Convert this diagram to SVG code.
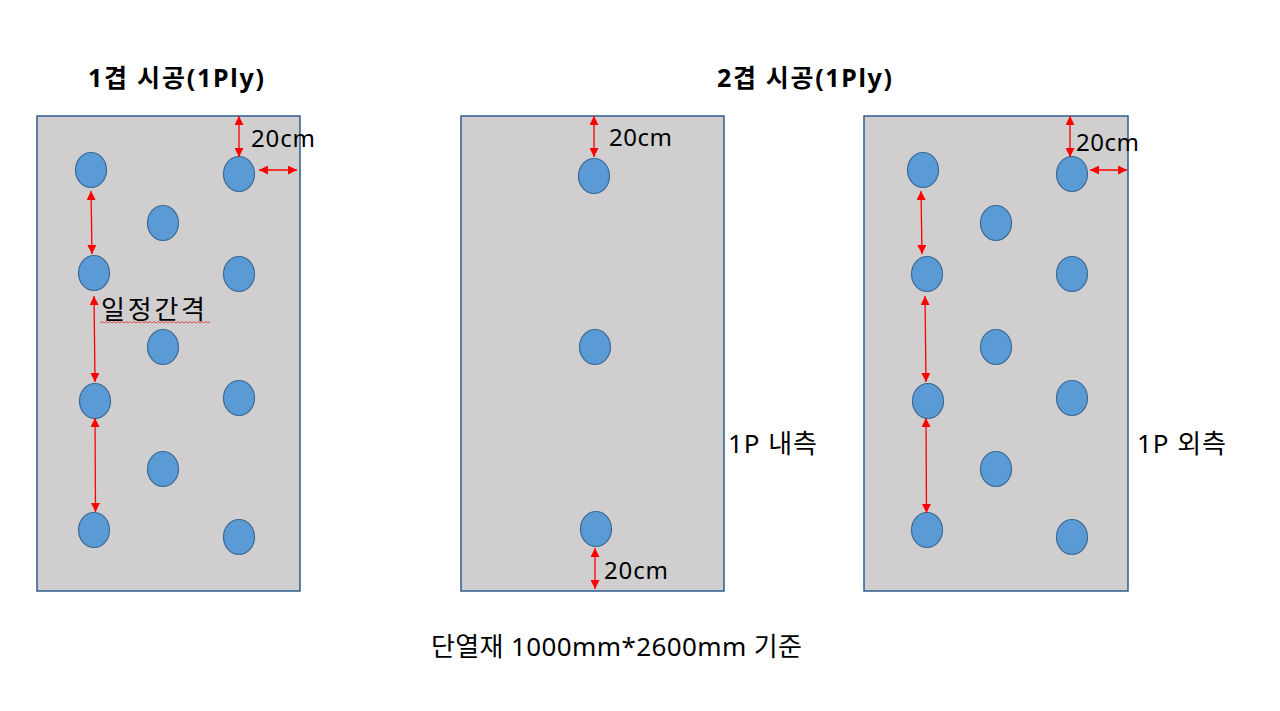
<svg xmlns="http://www.w3.org/2000/svg" width="1280" height="711" viewBox="0 0 1280 711">
<style>
.panel{fill:#d0cece;stroke:#2f5b8f;stroke-width:1.5}
.hole{fill:#5b9bd5;stroke:#3a6a94;stroke-width:1.2}
.dim{stroke:#ff0000;stroke-width:1.3;fill:none;marker-start:url(#ah);marker-end:url(#ah)}
.t{font-family:"Noto Sans","Noto Sans CJK KR",sans-serif;font-size:24px;fill:#000}
.tl{font-family:"Noto Sans","Noto Sans CJK KR",sans-serif;font-size:26px;fill:#000}
.tb{font-family:"Noto Sans","Noto Sans CJK KR",sans-serif;font-size:25px;font-weight:bold;fill:#000}
</style>
<defs>
<marker id="ah" viewBox="0 0 10 10" refX="10" refY="5" markerWidth="9" markerHeight="9" markerUnits="userSpaceOnUse" orient="auto-start-reverse">
<path d="M0,0 L10,5 L0,10 z" fill="#ff0000"/>
</marker>
</defs>
<rect width="1280" height="711" fill="#ffffff"/>

<g id="titles">
<text class="tb" x="88" y="87" textLength="176">1겹 시공(1Ply)</text>
<text class="tb" x="717" y="87" textLength="175">2겹 시공(1Ply)</text>
</g>

<g id="panel-1ply">
<rect class="panel" x="37" y="116" width="263" height="475"/>
<g id="h1-1"><ellipse class="hole" cx="91" cy="170" rx="15.5" ry="17.5"/></g>
<g id="h1-2"><ellipse class="hole" cx="239" cy="174" rx="15.5" ry="17.5"/></g>
<g id="h1-3"><ellipse class="hole" cx="163" cy="223" rx="15.5" ry="17.5"/></g>
<g id="h1-4"><ellipse class="hole" cx="94" cy="273" rx="15.5" ry="17.5"/></g>
<g id="h1-5"><ellipse class="hole" cx="239" cy="274" rx="15.5" ry="17.5"/></g>
<g id="h1-6"><ellipse class="hole" cx="163" cy="347" rx="15.5" ry="17.5"/></g>
<g id="h1-7"><ellipse class="hole" cx="95" cy="401" rx="15.5" ry="17.5"/></g>
<g id="h1-8"><ellipse class="hole" cx="239" cy="398" rx="15.5" ry="17.5"/></g>
<g id="h1-9"><ellipse class="hole" cx="163" cy="469" rx="15.5" ry="17.5"/></g>
<g id="h1-10"><ellipse class="hole" cx="94" cy="530" rx="15.5" ry="17.5"/></g>
<g id="h1-11"><ellipse class="hole" cx="239" cy="537" rx="15.5" ry="17.5"/></g>
</g>

<g id="panel-inner">
<rect class="panel" x="461" y="116" width="263" height="475"/>
<g id="h2-1"><ellipse class="hole" cx="594" cy="176" rx="15.5" ry="17.5"/></g>
<g id="h2-2"><ellipse class="hole" cx="595" cy="347" rx="15.5" ry="17.5"/></g>
<g id="h2-3"><ellipse class="hole" cx="596" cy="529" rx="15.5" ry="17.5"/></g>
</g>

<g id="panel-outer">
<rect class="panel" x="864" y="116" width="264" height="475"/>
<g id="h3-1"><ellipse class="hole" cx="923" cy="170" rx="15.5" ry="17.5"/></g>
<g id="h3-2"><ellipse class="hole" cx="1072" cy="174" rx="15.5" ry="17.5"/></g>
<g id="h3-3"><ellipse class="hole" cx="996" cy="223" rx="15.5" ry="17.5"/></g>
<g id="h3-4"><ellipse class="hole" cx="927" cy="274" rx="15.5" ry="17.5"/></g>
<g id="h3-5"><ellipse class="hole" cx="1072" cy="274" rx="15.5" ry="17.5"/></g>
<g id="h3-6"><ellipse class="hole" cx="996" cy="347" rx="15.5" ry="17.5"/></g>
<g id="h3-7"><ellipse class="hole" cx="928" cy="401" rx="15.5" ry="17.5"/></g>
<g id="h3-8"><ellipse class="hole" cx="1072" cy="398" rx="15.5" ry="17.5"/></g>
<g id="h3-9"><ellipse class="hole" cx="996" cy="469" rx="15.5" ry="17.5"/></g>
<g id="h3-10"><ellipse class="hole" cx="927" cy="530" rx="15.5" ry="17.5"/></g>
<g id="h3-11"><ellipse class="hole" cx="1072" cy="537" rx="15.5" ry="17.5"/></g>
</g>

<g id="connectors">
<line class="dim" x1="239" y1="116" x2="239" y2="157"/>
<line class="dim" x1="259" y1="170" x2="297" y2="170"/>
<line class="dim" x1="91" y1="191" x2="92" y2="254"/>
<line class="dim" x1="94" y1="296" x2="95" y2="382"/>
<line class="dim" x1="95" y1="418" x2="95.5" y2="512"/>

<line class="dim" x1="594" y1="116" x2="594" y2="157"/>
<line class="dim" x1="595" y1="548" x2="595" y2="589"/>

<line class="dim" x1="1070" y1="116" x2="1070" y2="157"/>
<line class="dim" x1="1090" y1="170" x2="1127" y2="170"/>
<line class="dim" x1="921" y1="191" x2="922" y2="254"/>
<line class="dim" x1="925" y1="296" x2="926" y2="382"/>
<line class="dim" x1="926" y1="418" x2="926.5" y2="513"/>
</g>

<g id="labels">
<text class="t" x="251" y="147" textLength="64">20cm</text>
<text class="t" x="609" y="146" textLength="63">20cm</text>
<text class="t" x="604" y="579" textLength="64">20cm</text>
<text class="t" x="1076" y="151" textLength="63">20cm</text>
<text class="tl" x="101" y="319" textLength="104">일정간격</text>
<path d="M100,323 l2,-1.5 l2,1.5 l2,-1.5 l2,1.5 l2,-1.5 l2,1.5 l2,-1.5 l2,1.5 l2,-1.5 l2,1.5 l2,-1.5 l2,1.5 l2,-1.5 l2,1.5 l2,-1.5 l2,1.5 l2,-1.5 l2,1.5 l2,-1.5 l2,1.5 l2,-1.5 l2,1.5 l2,-1.5 l2,1.5 l2,-1.5 l2,1.5 l2,-1.5 l2,1.5 l2,-1.5 l2,1.5 l2,-1.5 l2,1.5 l2,-1.5 l2,1.5 l2,-1.5 l2,1.5 l2,-1.5 l2,1.5 l2,-1.5 l2,1.5 l2,-1.5 l2,1.5 l2,-1.5 l2,1.5 l2,-1.5 l2,1.5 l2,-1.5 l2,1.5 l2,-1.5 l2,1.5 l2,-1.5 l2,1.5 l2,-1.5 l2,1.5 l2,-1.5" fill="none" stroke="#e03030" stroke-width="0.8"/>
<text class="tl" x="728" y="453" textLength="89">1P 내측</text>
<text class="tl" x="1137" y="453" textLength="89">1P 외측</text>
<text class="tl" x="431" y="656" textLength="371">단열재 1000mm*2600mm 기준</text>
</g>
</svg>
